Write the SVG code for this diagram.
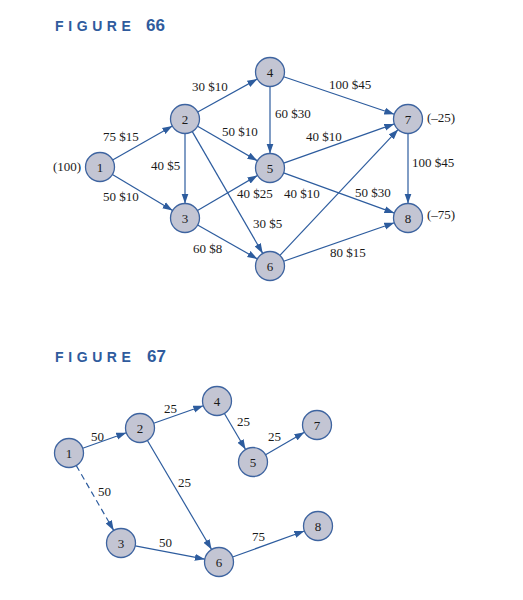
<svg xmlns="http://www.w3.org/2000/svg" width="523" height="600" viewBox="0 0 523 600">
<style>
.title{font-family:"Liberation Sans",Arial,sans-serif;font-weight:bold;fill:#2f5b9d;font-size:14px;letter-spacing:4.6px}
.num{font-family:"Liberation Sans",Arial,sans-serif;font-weight:bold;fill:#2f5b9d;font-size:17px}
.lbl{font-family:"Liberation Serif","Times New Roman",serif;font-size:13px;fill:#1a1a1a}
.nd circle{fill:#c3c5d3;stroke:#3e64a0;stroke-width:1.3}
.nd text{font-family:"Liberation Serif","Times New Roman",serif;font-size:13px;fill:#1a1a1a;text-anchor:middle}
.e line{stroke:#2d5c9e;stroke-width:1.2;marker-end:url(#ah)}
.dash{stroke-dasharray:6 4}
</style>
<defs>
<marker id="ah" markerUnits="userSpaceOnUse" markerWidth="10" markerHeight="8" refX="10" refY="4" orient="auto">
<path d="M0,0.5 L10,4 L0,7.5 z" fill="#2d5c9e"/>
</marker>
</defs>
<rect width="523" height="600" fill="#fff"/>

<text class="title" x="55" y="31">FIGURE</text>
<text class="num" x="146" y="31">66</text>
<text class="title" x="55" y="362">FIGURE</text>
<text class="num" x="147" y="362">67</text>

<g id="connectors" class="e">
<line x1="112.6" y1="159.9" x2="172.4" y2="126.1"/>
<line x1="112.4" y1="174.5" x2="172.6" y2="210.5"/>
<line x1="197.7" y1="112.0" x2="257.3" y2="79.0"/>
<line x1="185" y1="133.5" x2="185" y2="203.5"/>
<line x1="197.6" y1="126.2" x2="257.4" y2="160.8"/>
<line x1="192.3" y1="131.6" x2="262.7" y2="253.4"/>
<line x1="270" y1="86.5" x2="270" y2="153.5"/>
<line x1="283.7" y1="76.7" x2="394.3" y2="114.3"/>
<line x1="197.5" y1="210.6" x2="257.5" y2="175.4"/>
<line x1="197.6" y1="225.1" x2="257.4" y2="258.9"/>
<line x1="283.7" y1="163.1" x2="394.3" y2="123.9"/>
<line x1="283.6" y1="172.9" x2="394.4" y2="213.1"/>
<line x1="279.9" y1="255.4" x2="398.1" y2="129.6"/>
<line x1="283.7" y1="261.2" x2="394.3" y2="222.8"/>
<line x1="408" y1="133.5" x2="408" y2="203.5"/>

<line x1="82.7" y1="448.2" x2="126.3" y2="432.8"/>
<line x1="153.7" y1="423.2" x2="203.3" y2="405.8"/>
<line x1="224.4" y1="413.5" x2="245.6" y2="449.5"/>
<line x1="265.6" y1="454.7" x2="304.4" y2="432.3"/>
<line class="dash" x1="76.3" y1="465.6" x2="113.7" y2="530.4"/>
<line x1="147.4" y1="440.5" x2="211.6" y2="549.5"/>
<line x1="135.2" y1="545.8" x2="204.8" y2="559.2"/>
<line x1="232.6" y1="557.0" x2="304.4" y2="531.0"/>
</g>

<g id="labels66">
<text class="lbl" x="192" y="91">30 $10</text>
<text class="lbl" x="103" y="141">75 $15</text>
<text class="lbl" x="53" y="171">(100)</text>
<text class="lbl" x="151" y="170">40 $5</text>
<text class="lbl" x="222" y="136">50 $10</text>
<text class="lbl" x="103" y="201">50 $10</text>
<text class="lbl" x="237" y="198">40 $25</text>
<text class="lbl" x="284" y="198">40 $10</text>
<text class="lbl" x="355" y="197">50 $30</text>
<text class="lbl" x="253" y="228">30 $5</text>
<text class="lbl" x="193" y="253">60 $8</text>
<text class="lbl" x="330" y="257">80 $15</text>
<text class="lbl" x="427" y="219">(–75)</text>
<text class="lbl" x="329" y="89">100 $45</text>
<text class="lbl" x="275" y="118">60 $30</text>
<text class="lbl" x="427" y="122">(–25)</text>
<text class="lbl" x="306" y="141">40 $10</text>
<text class="lbl" x="412" y="167">100 $45</text>
</g>

<g id="labels67">
<text class="lbl" x="91" y="441">50</text>
<text class="lbl" x="164" y="413">25</text>
<text class="lbl" x="237" y="426">25</text>
<text class="lbl" x="268" y="441">25</text>
<text class="lbl" x="98" y="496">50</text>
<text class="lbl" x="178" y="487">25</text>
<text class="lbl" x="159" y="547">50</text>
<text class="lbl" x="252" y="541">75</text>
</g>

<g id="f66n1" class="nd"><circle cx="100" cy="167" r="14.5"/><text x="100" y="171.5">1</text></g>
<g id="f66n2" class="nd"><circle cx="185" cy="119" r="14.5"/><text x="185" y="123.5">2</text></g>
<g id="f66n3" class="nd"><circle cx="185" cy="218" r="14.5"/><text x="185" y="222.5">3</text></g>
<g id="f66n4" class="nd"><circle cx="270" cy="72" r="14.5"/><text x="270" y="76.5">4</text></g>
<g id="f66n5" class="nd"><circle cx="270" cy="168" r="14.5"/><text x="270" y="172.5">5</text></g>
<g id="f66n6" class="nd"><circle cx="270" cy="266" r="14.5"/><text x="270" y="270.5">6</text></g>
<g id="f66n7" class="nd"><circle cx="408" cy="119" r="14.5"/><text x="408" y="123.5">7</text></g>
<g id="f66n8" class="nd"><circle cx="408" cy="218" r="14.5"/><text x="408" y="222.5">8</text></g>

<g id="f67n1" class="nd"><circle cx="69" cy="453" r="14.5"/><text x="69" y="457.5">1</text></g>
<g id="f67n2" class="nd"><circle cx="140" cy="428" r="14.5"/><text x="140" y="432.5">2</text></g>
<g id="f67n3" class="nd"><circle cx="121" cy="543" r="14.5"/><text x="121" y="547.5">3</text></g>
<g id="f67n4" class="nd"><circle cx="217" cy="401" r="14.5"/><text x="217" y="405.5">4</text></g>
<g id="f67n5" class="nd"><circle cx="253" cy="462" r="14.5"/><text x="253" y="466.5">5</text></g>
<g id="f67n6" class="nd"><circle cx="219" cy="562" r="14.5"/><text x="219" y="566.5">6</text></g>
<g id="f67n7" class="nd"><circle cx="317" cy="425" r="14.5"/><text x="317" y="429.5">7</text></g>
<g id="f67n8" class="nd"><circle cx="318" cy="526" r="14.5"/><text x="318" y="530.5">8</text></g>
</svg>
